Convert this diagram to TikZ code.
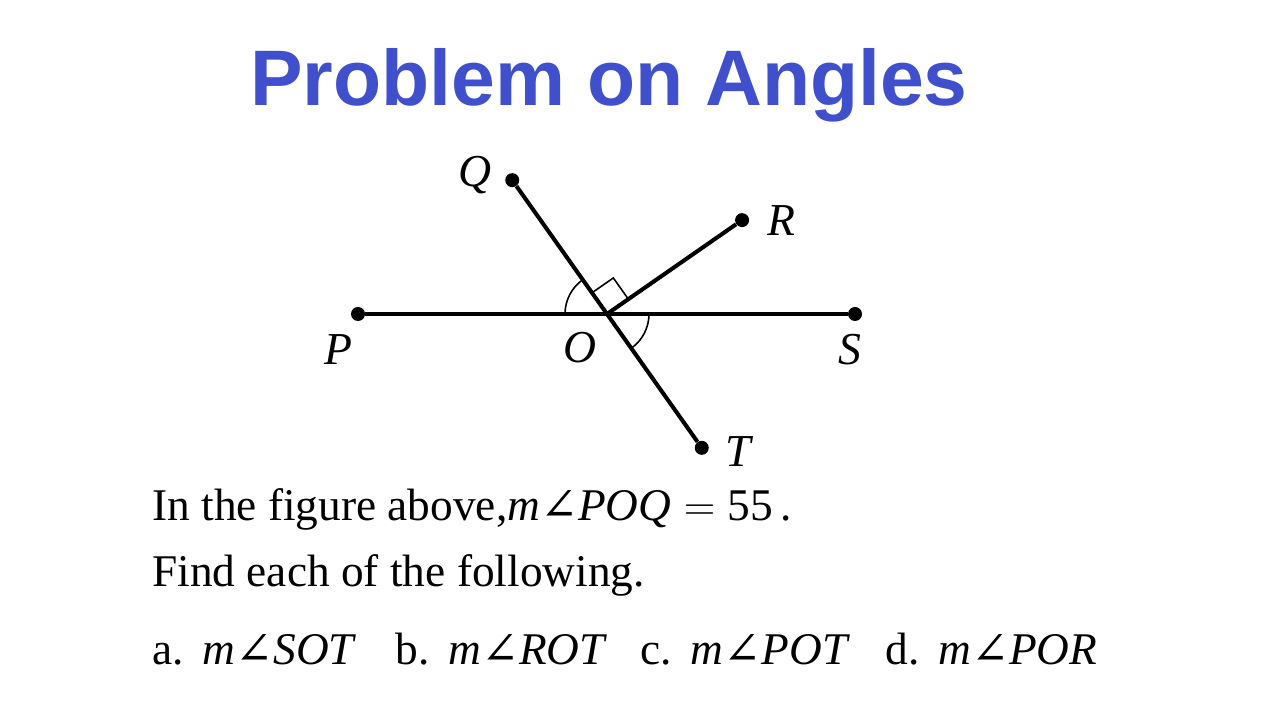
\documentclass[tikz,border=0pt]{standalone}
\usepackage{fontspec}
\setmainfont{Liberation Serif}
\newfontfamily\titlefont{Liberation Sans}
\newfontfamily\angfont{DejaVu Serif}
\usetikzlibrary{calc}
\definecolor{ang_blue}{RGB}{64,80,204}
\newcommand{\mang}[1]{\textit{m}{\angfont ∠}\textit{#1}}

\begin{document}
\begin{tikzpicture}[
    dot/.style={circle, fill=black, inner sep=0pt, minimum size=0.28cm},
    ray/.style={black, line width=2.3pt},
    anglemark/.style={black, line width=0.9pt},
    lbl/.style={font=\fontsize{26}{31}\selectfont\itshape, inner sep=0pt},
    txt/.style={font=\fontsize{25.8}{31}\selectfont, anchor=base west, inner sep=0pt}
  ]
    % Slide size: 1280 x 720 px at 50 px per cm
    \useasboundingbox (0,0) rectangle (25.6,14.4);
    \fill[white] (0,0) rectangle (25.6,14.4);

    % Title
    \node[ang_blue, font=\titlefont\bfseries\fontsize{44.8}{52}\selectfont, anchor=base, inner sep=0pt]
      (title) at (12.18,12.28) {Problem on Angles};

    % Vertex and end points of the rays
    \coordinate (O) at (12.14,8.12);
    \node[dot] (P) at (7.16,8.12) {};
    \node[dot] (S) at (17.10,8.12) {};
    \node[dot] (Q) at ($(O)+(125.3:3.28)$) {};
    \node[dot] (R) at ($(O)+(34.8:3.29)$) {};
    \node[dot] (T) at ($(O)+(-54.7:3.28)$) {};

    % Lines through O
    \draw[ray] (P) -- (S);
    \draw[ray] (Q) -- (T);
    \draw[ray] (O) -- (R);

    % Angle marks: right angle QOR, arcs for POQ and SOT
    \draw[anglemark] ($(O)!0.52cm!(Q)$) -- ++(34.8:0.52) -- ($(O)!0.52cm!(R)$);
    \draw[anglemark] ([shift={(180:0.84)}]O) arc[start angle=180, end angle=125.3, radius=0.84];
    \draw[anglemark] ([shift={(0:0.84)}]O) arc[start angle=0, end angle=-54.7, radius=0.84];

    % Point labels
    \node[lbl] (lQ) at (9.50,10.90) {Q};
    \node[lbl] (lR) at (15.62,9.98) {R};
    \node[lbl] (lP) at (6.76,7.40) {P};
    \node[lbl] (lO) at (11.60,7.44) {O};
    \node[lbl] (lS) at (17.00,7.40) {S};
    \node[lbl] (lT) at (14.76,5.36) {T};

    % Problem text
    \node[txt] (line1) at (3.04,3.98)
      {In the figure above,\mang{POQ}\;$=$\;55\,.};
    \node[txt] (line2) at (3.04,2.68) {Find each of the following.};
    \node[txt] (qa) at (3.04,1.10) {a.\hspace{0.42em}\mang{SOT}};
    \node[txt] (qb) at (7.90,1.10) {b.\hspace{0.42em}\mang{ROT}};
    \node[txt] (qc) at (12.80,1.10) {c.\hspace{0.42em}\mang{POT}};
    \node[txt] (qd) at (17.70,1.10) {d.\hspace{0.42em}\mang{POR}};

  \end{tikzpicture}
\end{document}
